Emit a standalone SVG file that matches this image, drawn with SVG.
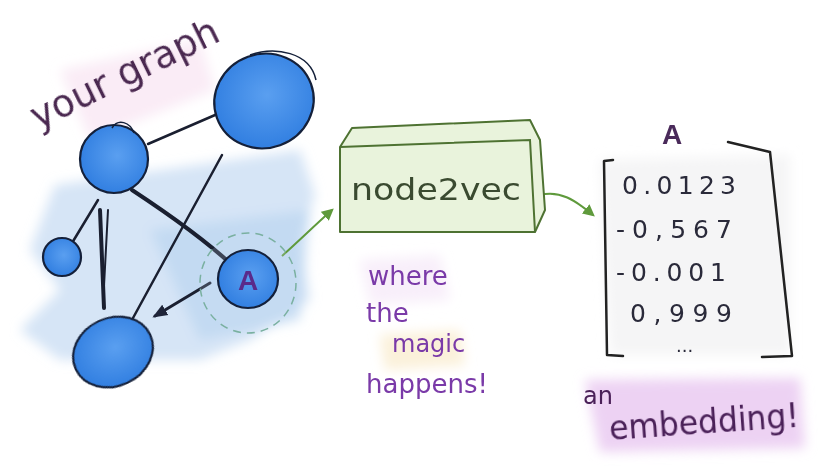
<svg xmlns="http://www.w3.org/2000/svg" width="826" height="474" viewBox="0 0 826 474">
<defs>
<filter id="blur" x="-20%" y="-20%" width="140%" height="140%"><feGaussianBlur stdDeviation="6"/></filter>
<marker id="ah" viewBox="0 0 10 10" refX="8" refY="5" markerWidth="5" markerHeight="5" orient="auto"><path d="M0,1 L10,5 L0,9 Z" fill="#1e2438"/></marker>
<marker id="gah" viewBox="0 0 10 10" refX="8" refY="5" markerWidth="6" markerHeight="6" orient="auto"><path d="M0,0 L10,5 L0,10 Z" fill="#5f9a3c"/></marker>
<radialGradient id="nodeg" cx="55%" cy="45%" r="60%"><stop offset="0" stop-color="#5a9ff0"/><stop offset="1" stop-color="#2f7de0"/></radialGradient>
</defs>
<style>
.node{fill:url(#nodeg);stroke:#14203a;stroke-width:2.2}
.edge{stroke:#1a1f30;fill:none;stroke-linecap:round}
.hand{font-family:"DejaVu Sans","Liberation Sans",sans-serif}
.num{font-family:"DejaVu Sans","Liberation Sans",sans-serif;fill:#2a2a3a}
.br{stroke:#222;stroke-width:2.5;fill:none;stroke-linecap:round;stroke-linejoin:round}
</style>
<rect width="826" height="474" fill="#ffffff"/>
<g id="wash" filter="url(#blur)">
<path d="M55,185 L300,150 L315,195 L300,240 L310,300 L250,340 L200,360 L60,360 L20,330 L60,290 L30,250 Z" fill="#cfe1f5" opacity="0.85"/>
<path d="M150,230 L310,210 L300,320 L200,340 Z" fill="#bcd5f1" opacity="0.7"/>
<path d="M60,70 L200,40 L215,90 L90,140 Z" fill="#f6e0f0" opacity="0.6"/>
<path d="M585,380 L800,378 L805,448 L600,452 Z" fill="#ecd0f2" opacity="0.95"/>
<path d="M380,335 L460,330 L465,365 L385,370 Z" fill="#fbefd6" opacity="0.9"/>
<path d="M360,260 L440,255 L450,300 L370,305 Z" fill="#f3e4f6" opacity="0.6"/>
<path d="M600,160 L790,155 L790,355 L610,355 Z" fill="#f2f2f4" opacity="0.8"/>
</g>
<text class="hand" x="38" y="130" font-size="38" fill="#4a2850" transform="rotate(-26 38 130)" textLength="205" lengthAdjust="spacingAndGlyphs">your graph</text>
<g id="connectors">
<path class="edge" style="stroke-width:2.5" d="M148,144 L222,112"/>
<path class="edge" style="stroke-width:4" d="M132,190 C170,215 205,240 232,265"/>
<path class="edge" style="stroke-width:2.5" d="M222,155 L133,318"/>
<path class="edge" style="stroke-width:2.5" d="M98,200 L72,243"/>
<path class="edge" style="stroke-width:4" d="M100,210 L104,308"/>
<path class="edge" style="stroke-width:2" d="M108,210 L103,305"/>
<path class="edge" style="stroke-width:3" d="M210,283 L155,316" marker-end="url(#ah)"/>
<path d="M282,256 C300,240 315,225 332,210" stroke="#5f9a3c" stroke-width="2" fill="none" marker-end="url(#gah)"/>
<path d="M540,195 C560,190 575,200 593,215" stroke="#5f9a3c" stroke-width="2" fill="none" marker-end="url(#gah)"/>
</g>
<g id="node-top-right">
<ellipse class="node" cx="264" cy="101" rx="50" ry="47" transform="rotate(-20 264 101)"/>
<path d="M250,55 C275,46 310,52 316,80" stroke="#14203a" stroke-width="1.5" fill="none"/>
</g>
<g id="node-upper-left">
<ellipse class="node" cx="114" cy="159" rx="34" ry="34"/>
<path d="M112,128 C118,118 130,122 134,133" stroke="#14203a" stroke-width="1.5" fill="none"/>
</g>
<g id="node-small">
<circle class="node" cx="62" cy="257" r="19"/>
</g>
<g id="node-bottom">
<ellipse class="node" cx="113" cy="352" rx="41" ry="34" transform="rotate(-25 113 352)"/>
</g>
<g id="node-A">
<ellipse cx="248" cy="283" rx="48" ry="50" fill="#cfe3f3" fill-opacity="0.2" stroke="#7ab0a0" stroke-width="1.5" stroke-dasharray="8 6"/>
<ellipse class="node" cx="248" cy="279" rx="30" ry="29"/>
<text x="248" y="290" text-anchor="middle" font-family="Liberation Sans,sans-serif" font-weight="bold" font-size="28" fill="#5a2a8a">A</text>
</g>
<g id="node2vec">
<path d="M340,147 L352,128 L530,120 L540,140 L545,210 L535,232 L340,232 Z" fill="#e9f3dc" stroke="#4e7232" stroke-width="2" stroke-linejoin="round"/>
<path d="M340,147 L530,140 L535,232" fill="none" stroke="#4e7232" stroke-width="2"/>
<text x="436" y="200" text-anchor="middle" font-family="DejaVu Sans,sans-serif" font-size="30" fill="#3a4a30" textLength="170" lengthAdjust="spacingAndGlyphs">node2vec</text>
</g>
<g id="caption-magic" fill="#7a3aa8">
<text class="hand" x="368" y="285" font-size="26">where</text>
<text class="hand" x="366" y="322" font-size="26">the</text>
<text class="hand" x="392" y="352" font-size="24">magic</text>
<text class="hand" x="366" y="393" font-size="26">happens!</text>
</g>
<g id="embedding">
<text x="672" y="144" text-anchor="middle" font-family="Liberation Sans,sans-serif" font-weight="bold" font-size="28" fill="#4a2a5a">A</text>
<path class="br" d="M613,160 L604,161 L607,355 L623,356"/>
<path class="br" d="M728,142 L770,152 L792,356 L762,357"/>
<text class="num" x="622" y="194" font-size="25" textLength="114" lengthAdjust="spacing">0.0123</text>
<text class="num" x="616" y="238" font-size="25" textLength="116" lengthAdjust="spacing">-0,567</text>
<text class="num" x="616" y="281" font-size="25" textLength="110" lengthAdjust="spacing">-0.001</text>
<text class="num" x="630" y="322" font-size="25" textLength="102" lengthAdjust="spacing">0,999</text>
<text class="num" x="676" y="352" font-size="18">...</text>
</g>
<g id="caption-embedding" fill="#4a2058">
<text class="hand" x="583" y="404" font-size="24">an</text>
<text class="hand" x="610" y="440" font-size="34" transform="rotate(-4 610 440)" textLength="190" lengthAdjust="spacingAndGlyphs">embedding!</text>
</g>
</svg>
